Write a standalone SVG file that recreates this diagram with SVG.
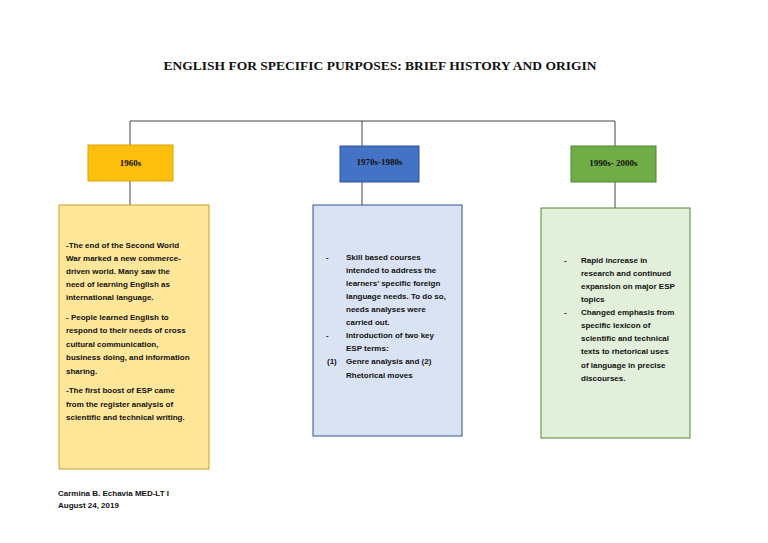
<svg xmlns="http://www.w3.org/2000/svg" width="768" height="543" viewBox="0 0 768 543">
<style>
.t{font-family:"Liberation Sans",Arial,sans-serif;font-weight:bold;font-size:8px;fill:#111}
.h{font-family:"Liberation Serif",serif;font-weight:bold;font-size:9px;fill:#111;text-anchor:middle}
.ln{stroke:#444;stroke-width:1;fill:none}
</style>
<rect width="768" height="543" fill="#fff"/>
<text x="380" y="70" font-family="Liberation Serif,serif" font-weight="bold" font-size="13.5" text-anchor="middle" fill="#111">ENGLISH FOR SPECIFIC PURPOSES: BRIEF HISTORY AND ORIGIN</text>
<g id="connectors" class="ln">
<path d="M130 145V121H615V146"/>
<path d="M362 121V146"/>
<path d="M130 181V205"/>
<path d="M362 182V205"/>
<path d="M615 182V208"/>
</g>
<g id="n1960"><rect x="88" y="145" width="85" height="36" fill="#fcc00c" stroke="#d9a40a"/><text class="h" x="130.5" y="166">1960s</text></g>
<g id="n1970"><rect x="340" y="146" width="79" height="36" fill="#4472c4" stroke="#2f5597"/><text class="h" x="379.5" y="165">1970s-1980s</text></g>
<g id="n1990"><rect x="571" y="146" width="85" height="36" fill="#70ad47" stroke="#548235"/><text class="h" x="613.5" y="166">1990s- 2000s</text></g>
<g id="b1960"><rect x="59" y="205" width="150" height="264" fill="#ffe699" stroke="#c9a227"/>
<text class="t"><tspan x="66" y="248">-The end of the Second World</tspan><tspan x="66" y="261">War marked a new commerce-</tspan><tspan x="66" y="274">driven world. Many saw the</tspan><tspan x="66" y="287">need of learning English as</tspan><tspan x="66" y="300">international language.</tspan><tspan x="66" y="320">- People learned English to</tspan><tspan x="66" y="333">respond to their needs of cross</tspan><tspan x="66" y="347">cultural communication,</tspan><tspan x="66" y="360">business doing, and information</tspan><tspan x="66" y="374">sharing.</tspan><tspan x="66" y="393">-The first boost of ESP came</tspan><tspan x="66" y="407">from the register analysis of</tspan><tspan x="66" y="420">scientific and technical writing.</tspan></text></g>
<g id="b1970"><rect x="313" y="205" width="149" height="231" fill="#dae3f3" stroke="#2f5597"/>
<text class="t"><tspan x="326" y="260">-</tspan><tspan x="346" y="260">Skill based courses</tspan><tspan x="346" y="273">intended to address the</tspan><tspan x="346" y="286">learners’ specific foreign</tspan><tspan x="346" y="299">language needs. To do so,</tspan><tspan x="346" y="312">needs analyses were</tspan><tspan x="346" y="325">carried out.</tspan><tspan x="326" y="338">-</tspan><tspan x="346" y="338">Introduction of two key</tspan><tspan x="346" y="351">ESP terms:</tspan><tspan x="327" y="364">(1)</tspan><tspan x="346" y="364">Genre analysis and (2)</tspan><tspan x="346" y="378">Rhetorical moves</tspan></text></g>
<g id="b1990"><rect x="541" y="208" width="149" height="230" fill="#e2efda" stroke="#548235"/>
<text class="t"><tspan x="564" y="263">-</tspan><tspan x="581" y="263">Rapid increase in</tspan><tspan x="581" y="276">research and continued</tspan><tspan x="581" y="289">expansion on major ESP</tspan><tspan x="581" y="302">topics</tspan><tspan x="564" y="315">-</tspan><tspan x="581" y="315">Changed emphasis from</tspan><tspan x="581" y="328">specific lexicon of</tspan><tspan x="581" y="341">scientific and technical</tspan><tspan x="581" y="354">texts to rhetorical uses</tspan><tspan x="581" y="368">of language in precise</tspan><tspan x="581" y="381">discourses.</tspan></text></g>
<text class="t"><tspan x="58" y="496">Carmina B. Echavia MED-LT I</tspan><tspan x="58" y="508">August 24, 2019</tspan></text>
</svg>
